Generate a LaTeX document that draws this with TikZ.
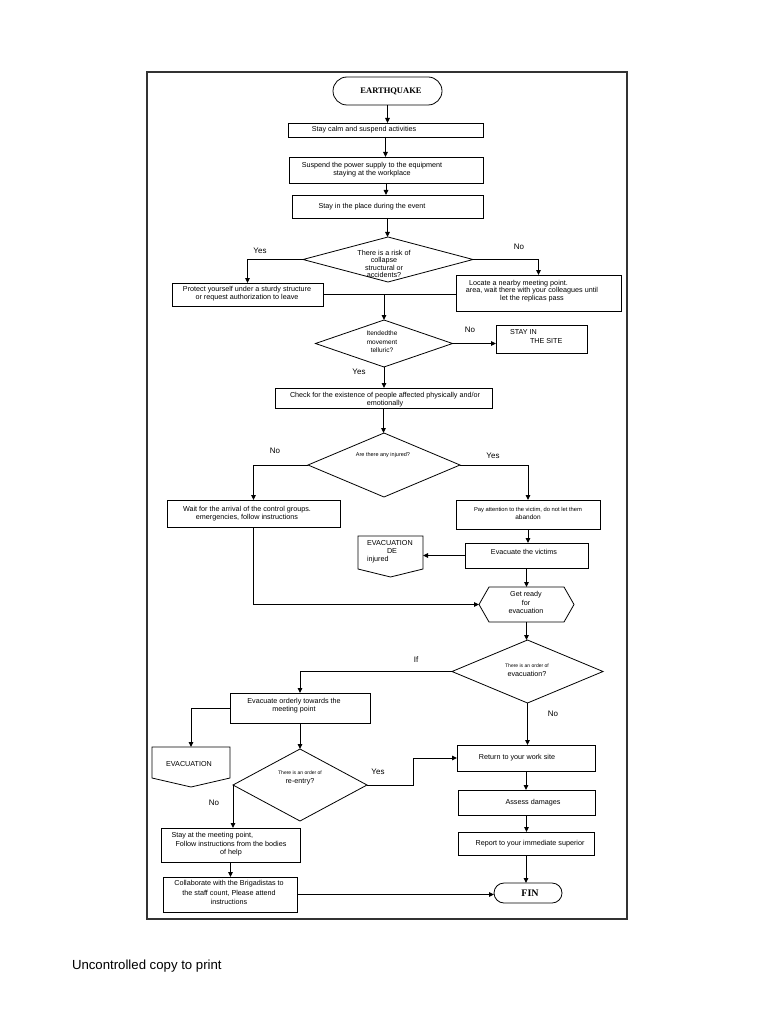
\documentclass[tikz,border=0pt]{standalone}
\usepackage{fontspec}
\setmainfont{Liberation Sans}
\newfontfamily\serifb{Liberation Serif}
\usetikzlibrary{shapes.geometric,shapes.misc,arrows.meta,calc}
\begin{document}
\begin{tikzpicture}[x=1pt,y=-1pt,
  every node/.style={inner sep=0pt, outer sep=0pt},
  box/.style={draw, line width=0.8pt, rectangle},
  dia/.style={draw, line width=0.8pt, diamond},
  term/.style={draw, line width=0.8pt, rounded rectangle},
  blank/.style={rectangle},
  txt/.style={font=\fontsize{7.2}{7.8}\selectfont, align=center},
  tiny/.style={font=\fontsize{5}{6}\selectfont, align=center},
  lbl/.style={font=\fontsize{8}{9}\selectfont},
  ttl/.style={font=\serifb\bfseries\fontsize{8.5}{10}\selectfont},
  arr/.style={line width=1pt, -{Triangle[length=5pt,width=4.5pt]}},
  ln/.style={line width=1pt},
  shp/.style={line width=0.8pt},
]
\useasboundingbox (0,0) rectangle (768,1024);
\fill[white] (0,0) rectangle (768,1024);
\draw[line width=1.3pt, black!80] (147,72) rectangle (627,919);

% top column
\node[term, minimum width=109pt, minimum height=28pt] (eq) at (387.5,91) {};
\node[ttl] (eqt) at (391,91) {EARTHQUAKE};

\node[box, minimum width=195pt, minimum height=14pt] (calm) at (385.5,130) {};
\node[txt] (calmt) at (364,130) {Stay calm and suspend activities};

\node[box, minimum width=194pt, minimum height=26pt] (power) at (386,170) {};
\node[txt] (powert) at (372,170) {Suspend the power supply to the equipment\\staying at the workplace};

\node[box, minimum width=191pt, minimum height=23pt] (place) at (387.5,206.5) {};
\node[txt] (placet) at (372,207) {Stay in the place during the event};

\node[dia, minimum width=170pt, minimum height=45pt] (d1) at (388,259.5) {};
\node[txt, font=\fontsize{7.2}{7.4}\selectfont] (d1t) at (384,264) {There is a risk of\\collapse\\structural or\\accidents?};

\node[box, minimum width=151pt, minimum height=23pt] (protect) at (247.5,294.5) {};
\node[txt, font=\fontsize{7.2}{8}\selectfont] (protectt) at (247,293.5) {Protect yourself under a sturdy structure\\or request authorization to leave};

\node[box, minimum width=165pt, minimum height=36pt] (locate) at (538.5,293) {};
\node[txt, font=\fontsize{7.2}{7.5}\selectfont] (locatet) at (532,291) {\makebox[126pt][l]{Locate a nearby meeting point.}\\area, wait there with your colleagues until\\let the replicas pass};

\node[dia, minimum width=137pt, minimum height=47pt] (d2) at (384,343.5) {};
\node[txt, font=\fontsize{6.5}{8.5}\selectfont] (d2t) at (382,342) {Itendedthe\\movement\\telluric?};

\node[box, minimum width=91pt, minimum height=28pt] (stay) at (541.5,339) {};
\node[txt, align=left, anchor=west, font=\fontsize{7.2}{9}\selectfont] (stayt) at (510,336.5) {STAY IN\\\hspace*{20pt}THE SITE};

\node[box, minimum width=217pt, minimum height=20pt] (check) at (383.5,398) {};
\node[txt, font=\fontsize{7.2}{7.5}\selectfont] (checkt) at (385,399.5) {Check for the existence of people affected physically and/or\\emotionally};

\node[dia, minimum width=152pt, minimum height=64pt] (d3) at (384,465) {};
\node[txt, font=\fontsize{5.5}{6}\selectfont] (d3t) at (383,455) {Are there any injured?};

\node[box, minimum width=173pt, minimum height=27pt] (wait) at (253.5,513.5) {};
\node[txt] (waitt) at (247,513.5) {Wait for the arrival of the control groups.\\emergencies, follow instructions};

\node[box, minimum width=144pt, minimum height=29pt] (pay) at (528,514.5) {};
\node[txt, font=\fontsize{5.8}{8}\selectfont] (payt) at (528,513) {Pay attention to the victim, do not let them\\{\fontsize{6.5}{8}\selectfont abandon}};

\node[box, minimum width=123pt, minimum height=25pt] (evv) at (526.5,555.5) {};
\node[txt] (evvt) at (524,552) {Evacuate the victims};

\node[blank, minimum width=65pt, minimum height=33pt] (evi) at (390.5,552.5) {};
\draw[shp] (evi.north west) -- (evi.north east) -- (evi.south east) -- ($(evi.south)+(0,8)$) -- (evi.south west) -- cycle;
\node[txt, align=left, anchor=west, font=\fontsize{7.2}{8}\selectfont] (evit) at (367,552) {EVACUATION\\\hspace*{20pt}DE\\injured};

\node[blank, minimum width=95pt, minimum height=35pt] (hex) at (526.5,604.5) {};
\draw[shp] (hex.west) -- ($(hex.north west)+(10,0)$) -- ($(hex.north east)+(-10,0)$) -- (hex.east) -- ($(hex.south east)+(-10,0)$) -- ($(hex.south west)+(10,0)$) -- cycle;
\node[txt, font=\fontsize{7.2}{8.5}\selectfont] (hext) at (526,602.5) {Get ready\\for\\evacuation};

\node[dia, minimum width=151pt, minimum height=63pt] (d4) at (527.5,671.5) {};
\node[txt, font=\fontsize{7.2}{9}\selectfont] (d4t) at (527,670.5) {{\fontsize{5}{6}\selectfont There is an order of}\\evacuation?};

\node[box, minimum width=140pt, minimum height=30pt] (orderly) at (300,708) {};
\node[txt, font=\fontsize{7.2}{8}\selectfont] (orderlyt) at (294,706) {Evacuate orderly towards the\\meeting point};

\node[blank, minimum width=78pt, minimum height=31pt] (evac) at (191,762.5) {};
\draw[shp] (evac.north west) -- (evac.north east) -- (evac.south east) -- ($(evac.south)+(0,9)$) -- (evac.south west) -- cycle;
\node[txt] (evact) at (189,764) {EVACUATION};

\node[dia, minimum width=134pt, minimum height=72pt] (d5) at (300,785) {};
\node[txt, font=\fontsize{7.2}{9}\selectfont] (d5t) at (300,777.5) {{\fontsize{5}{6}\selectfont There is an order of}\\re-entry?};

\node[box, minimum width=139pt, minimum height=34pt] (meet) at (230.5,845) {};
\node[txt, font=\fontsize{7.2}{8.5}\selectfont] (meett) at (231,844.5) {\makebox[119pt][l]{Stay at the meeting point,}\\Follow instructions from the bodies\\of help};

\node[box, minimum width=134pt, minimum height=35pt] (collab) at (230,894.5) {};
\node[txt, font=\fontsize{7.2}{9.5}\selectfont] (collabt) at (229,892.7) {Collaborate with the Brigadistas to\\the staff count, Please attend\\instructions};

\node[box, minimum width=138pt, minimum height=26pt] (ret) at (526,758) {};
\node[txt] (rett) at (517,758) {Return to your work site};

\node[box, minimum width=137pt, minimum height=25pt] (assess) at (526.5,802.5) {};
\node[txt] (assesst) at (533,803) {Assess damages};

\node[box, minimum width=136pt, minimum height=23pt] (report) at (526,843.5) {};
\node[txt] (reportt) at (530,844) {Report to your immediate superior};

\node[term, minimum width=68pt, minimum height=20pt] (fin) at (528,893) {};
\node[ttl, font=\serifb\bfseries\fontsize{10}{12}\selectfont] (fint) at (530,893) {FIN};

% connectors
\draw[arr] (eq.south) -- (eq.south |- calm.north);
\draw[arr] (calm.south) -- (calm.south |- power.north);
\draw[arr] (power.south) -- (power.south |- place.north);
\draw[arr] (place.south) -- (place.south |- d1.north);
\draw[arr] (d1.west) -| (protect.north);
\draw[arr] (d1.east) -| (locate.north);
\draw[ln] (protect.east) -- (protect.east -| locate.west);
\coordinate (j1) at (d2.north |- protect.east);
\draw[arr] (j1) -- (d2.north);
\draw[arr] (d2.east) -- (d2.east -| stay.west);
\draw[arr] (d2.south) -- (d2.south |- check.north);
\draw[arr] (check.south) -- (check.south |- d3.north);
\draw[arr] (d3.west) -| (wait.north);
\draw[arr] (d3.east) -| (pay.north);
\draw[arr] (pay.south) -- (pay.south |- evv.north);
\draw[arr] (evv.west) -- (evv.west -| evi.east);
\draw[arr] (evv.south) -- (evv.south |- hex.north);
\draw[arr] (wait.south) |- (hex.west);
\draw[arr] (hex.south) -- (hex.south |- d4.north);
\draw[arr] (d4.west) -| (orderly.north);
\draw[arr] (d4.south) -- (d4.south |- ret.north);
\draw[arr] (orderly.west) -| (evac.north);
\draw[arr] (orderly.south) -- (orderly.south |- d5.north);
\draw[arr] (d5.east) -- ++(46,0) |- (ret.west);
\draw[arr] (d5.west) -- (d5.west |- meet.north);
\draw[arr] (meet.south) -- (meet.south |- collab.north);
\draw[arr] (collab.east) -- (collab.east -| fin.west);
\draw[arr] (ret.south) -- (ret.south |- assess.north);
\draw[arr] (assess.south) -- (assess.south |- report.north);
\draw[arr] (report.south) -- (report.south |- fin.north);

% labels
\node[lbl] (l1) at (260,251) {Yes};
\node[lbl] (l2) at (519,247) {No};
\node[lbl] (l3) at (470,330) {No};
\node[lbl] (l4) at (359,372) {Yes};
\node[lbl] (l5) at (275,451) {No};
\node[lbl] (l6) at (493,456) {Yes};
\node[lbl] (l7) at (416,660) {If};
\node[lbl] (l8) at (553,714) {No};
\node[lbl] (l9) at (378,772) {Yes};
\node[lbl] (l10) at (214,803) {No};

\node[anchor=west, font=\fontsize{13.2}{15}\selectfont] (foot) at (72,966) {Uncontrolled copy to print};
\end{tikzpicture}
\end{document}
